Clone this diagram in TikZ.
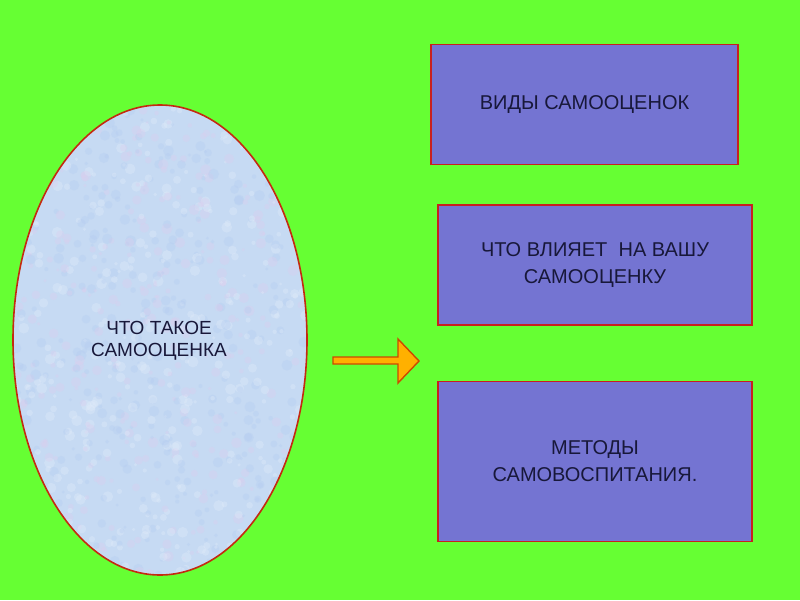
\documentclass[tikz,border=0pt]{standalone}
\usepackage{fontspec}
\setmainfont{Liberation Sans}
\definecolor{bggreen}{HTML}{66FF33}
\definecolor{boxfill}{HTML}{7474D2}
\definecolor{boxline}{HTML}{C82020}
\definecolor{ellfill}{HTML}{C6DAF3}
\definecolor{ellline}{HTML}{C42A10}
\definecolor{txt}{HTML}{18183A}
\definecolor{arrfill}{HTML}{FFB000}
\definecolor{arrline}{HTML}{CC4A00}
\definecolor{blobA}{HTML}{DCCDEE}
\definecolor{blobB}{HTML}{B2CBF0}
\definecolor{blobC}{HTML}{E2ECFA}
\tikzset{
  topicbox/.style={draw=boxline, line width=1.6pt, fill=boxfill, rectangle,
    inner sep=0pt, text=txt, align=center,
    font=\fontsize{20}{27}\selectfont},
  ellnode/.style={draw=ellline, line width=1.6pt, ellipse, inner sep=0pt},
  elllabel/.style={text=txt, align=center, font=\fontsize{19}{22.5}\selectfont},
  blockarrow/.style={fill=arrfill, draw=arrline, line width=1.4pt, line join=miter}
}
\usetikzlibrary{shapes.geometric}
\begin{document}
\begin{tikzpicture}[x=1pt,y=-1pt]
\useasboundingbox (0,0) rectangle (800,600);
\fill[bggreen] (0,0) rectangle (800,600);
% ellipse with mottled texture
\begin{scope}
\clip (160,340) ellipse [x radius=147, y radius=235];
\fill[ellfill] (0,90) rectangle (320,590);
\pgfmathsetseed{7}
\foreach \i in {1,...,1100}{
  \pgfmathsetmacro{\px}{13+294*rnd}
  \pgfmathsetmacro{\py}{105+470*rnd}
  \pgfmathsetmacro{\pr}{1.5+4*rnd}
  \pgfmathsetmacro{\pc}{rnd}
  \ifdim\pc pt<0.3pt
    \fill[blobA, opacity=0.35] (\px,\py) circle (\pr);
  \else\ifdim\pc pt<0.65pt
    \fill[blobB, opacity=0.3] (\px,\py) circle (\pr);
  \else
    \fill[blobC, opacity=0.35] (\px,\py) circle (\pr);
  \fi\fi
}
\end{scope}
\node[ellnode, minimum width=294pt, minimum height=470pt] (ell) at (160,340) {};
\node[elllabel] (elltext) at (159,341) {ЧТО ТАКОЕ\\САМООЦЕНКА};
% boxes
\node[topicbox, minimum width=307pt, minimum height=120pt] (b1) at (584.5,104.5) {ВИДЫ САМООЦЕНОК};
\node[topicbox, minimum width=314pt, minimum height=120pt] (b2) at (595,265) {\raisebox{0pt}{ЧТО ВЛИЯЕТ \ НА ВАШУ}\\САМООЦЕНКУ};
\node[topicbox, minimum width=314pt, minimum height=160pt] (b3) at (595,461.5) {МЕТОДЫ\\САМОВОСПИТАНИЯ.};
% block arrow
\coordinate (a1) at (333,357);
\coordinate (a2) at (398,357);
\coordinate (a3) at (398,339);
\coordinate (arrE) at (419,361);
\coordinate (a5) at (398,383);
\coordinate (a6) at (398,364);
\coordinate (a7) at (333,364);
\draw[blockarrow] (a1) -- (a2) -- (a3) -- (arrE) -- (a5) -- (a6) -- (a7) -- cycle;
\end{tikzpicture}
\end{document}
